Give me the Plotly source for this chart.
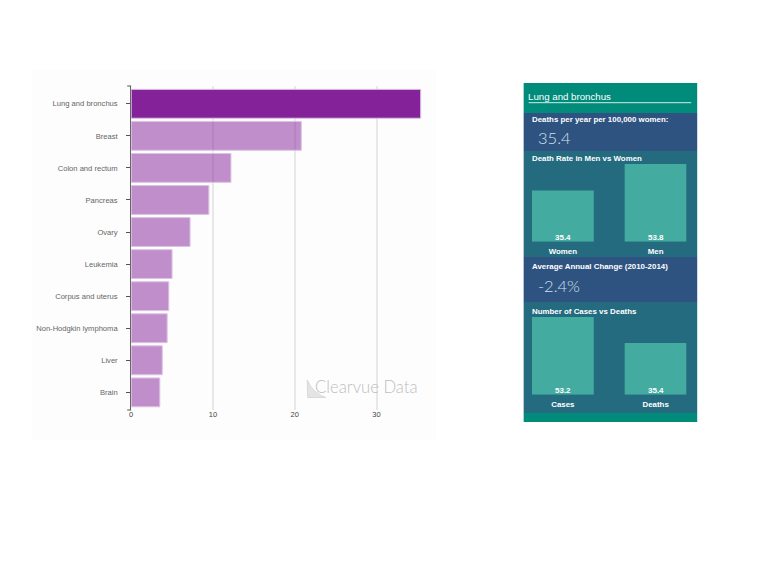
import plotly.graph_objects as go

W = 779
H = 561

cancers = ['Lung and bronchus', 'Breast', 'Colon and rectum', 'Pancreas', 'Ovary',
           'Leukemia', 'Corpus and uterus', 'Non-Hodgkin lymphoma', 'Liver', 'Brain']
death_rates = [35.4, 20.8, 12.2, 9.5, 7.2, 5.0, 4.6, 4.4, 3.8, 3.5]
x_ticks = [0, 10, 20, 30]

sex_labels = ['Women', 'Men']
sex_rates = [35.4, 53.8]
case_labels = ['Cases', 'Deaths']
case_rates = [53.2, 35.4]

PURPLE = '#842299'
PURPLE_LIGHT = 'rgba(132,34,153,0.5)'
TEAL = '#008b7b'
BLUE = '#2e5380'
TEAL_BLUE = '#256b80'
BAR_TEAL = '#43ab9f'


def px(x):
    return x / W


def py(y):
    return 1 - y / H


def rect(x0, y0, x1, y1, color):
    return dict(type='rect', xref='paper', yref='paper', x0=px(x0), x1=px(x1),
                y0=py(y1), y1=py(y0), fillcolor=color, line_width=0, layer='below')


def line(x0, y0, x1, y1, color, width=1):
    return dict(type='line', xref='paper', yref='paper', x0=px(x0), x1=px(x1),
                y0=py(y0), y1=py(y1), line=dict(color=color, width=width))


def label(x, y, text, size, color='white', weight=700, family='Liberation Sans'):
    return dict(xref='paper', yref='paper', x=px(x), y=py(y), text=text, showarrow=False,
                xanchor='left', yanchor='middle', borderpad=0,
                font=dict(size=size, color=color, family=family, weight=weight))


def bar_values(labels, values, xref, yref):
    # value sits just above the foot of each bar
    return [dict(xref=xref, yref=yref, x=c, y=0, text=str(v), showarrow=False,
                 yanchor='middle', yshift=4.7,
                 font=dict(size=8, color='white', family='Liberation Sans', weight=700))
            for c, v in zip(labels, values)]


fig = go.Figure()

# main chart
colors = [PURPLE] + [PURPLE_LIGHT] * (len(cancers) - 1)
fig.add_trace(go.Bar(y=cancers, x=death_rates, orientation='h', width=0.9,
                     marker=dict(color=colors, line=dict(color='#dcc3e4', width=1)),
                     xaxis='x', yaxis='y'))

# side panel charts
fig.add_trace(go.Bar(x=sex_labels, y=sex_rates, width=0.667,
                     marker=dict(color=BAR_TEAL, line_width=0),
                     xaxis='x2', yaxis='y2'))
fig.add_trace(go.Bar(x=case_labels, y=case_rates, width=0.667,
                     marker=dict(color=BAR_TEAL, line_width=0),
                     xaxis='x3', yaxis='y3'))

small_x = dict(range=[-0.333, 1.333], showgrid=False, zeroline=False, showline=False, ticks='',
               ticklabelstandoff=3,
               tickfont=dict(size=7.9, color='white', family='Liberation Sans', weight=700))
small_y = dict(range=[0, 53.8], visible=False)

fig.update_layout(
    width=W, height=H, autosize=False, showlegend=False,
    margin=dict(l=0, r=0, t=0, b=0),
    paper_bgcolor='white', plot_bgcolor='rgba(0,0,0,0)',
    font=dict(family='Liberation Sans'),
    xaxis=dict(domain=[px(129.5), px(424.7)], range=[0, 36], tickvals=x_ticks,
               showgrid=True, gridcolor='#e8e8e8', gridwidth=1.5, zeroline=False,
               showline=False, ticks='', anchor='y', ticklabelstandoff=-2,
               tickfont=dict(size=7.5, color='#444444')),
    yaxis=dict(domain=[py(410), py(86)], range=[9.55, -0.555], type='category',
               showgrid=False, zeroline=False, showline=True, linecolor='#666666', linewidth=1,
               ticks='outside', ticklen=4, tickcolor='#555555', ticklabelstandoff=7,
               anchor='x', tickfont=dict(size=7.6, color='#666666')),
    xaxis2=dict(small_x, domain=[px(531.3), px(686.3)], anchor='y2'),
    yaxis2=dict(small_y, domain=[py(241.7), py(164)], anchor='x2'),
    xaxis3=dict(small_x, domain=[px(531.3), px(686.3)], anchor='y3'),
    yaxis3=dict(small_y, range=[0, 53.2], domain=[py(394.7), py(317)], anchor='x3'),
    shapes=[
        rect(30, 70, 435, 440, '#fdfdfd'),
        rect(523, 83, 697, 113, TEAL),
        rect(523, 113, 697, 151, BLUE),
        rect(523, 151, 697, 257, TEAL_BLUE),
        rect(523, 257, 697, 302, BLUE),
        rect(523, 302, 697, 413, TEAL_BLUE),
        rect(523, 413, 697, 422, TEAL),
        line(528, 102.7, 691, 102.7, '#d5ece8', 1),
        # outer ticks of the category axis
        line(125.5, 86, 129.5, 86, '#555555', 1),
        line(125.5, 410, 129.5, 410, '#555555', 1),
        # watermark logo
        dict(type='path', xref='paper', yref='paper',
             path=f'M {px(306)} {py(380)} L {px(306.5)} {py(397.5)} L {px(324.5)} {py(397.5)} '
                  f'Q {px(311.5)} {py(393)} {px(306)} {py(380)} Z',
             fillcolor='#e4e4e4', line=dict(color='#cfcfcf', width=0.7)),
    ],
    annotations=[
        label(526, 96, 'Lung and bronchus', 9.7, weight=400),
        label(530, 119, 'Deaths per year per 100,000 women:', 7.9),
        label(536, 138, '35.4', 16.5, color='#d5e0ea', weight=300, family='Lato'),
        label(530, 158, 'Death Rate in Men vs Women', 7.9),
        label(530, 266.5, 'Average Annual Change (2010-2014)', 7.9),
        label(536, 285.5, '-2.4%', 16.5, color='#d5e0ea', weight=300, family='Lato'),
        label(530, 311, 'Number of Cases vs Deaths', 7.9),
        label(313, 387, 'Clearvue Data', 16.7, color='#bdbdbd', weight=300, family='Lato'),
    ] + bar_values(sex_labels, sex_rates, 'x2', 'y2') + bar_values(case_labels, case_rates, 'x3', 'y3'),
)

fig.write_html("out.html", config=dict(displayModeBar=False),
               post_script="document.body.style.margin='0';")
